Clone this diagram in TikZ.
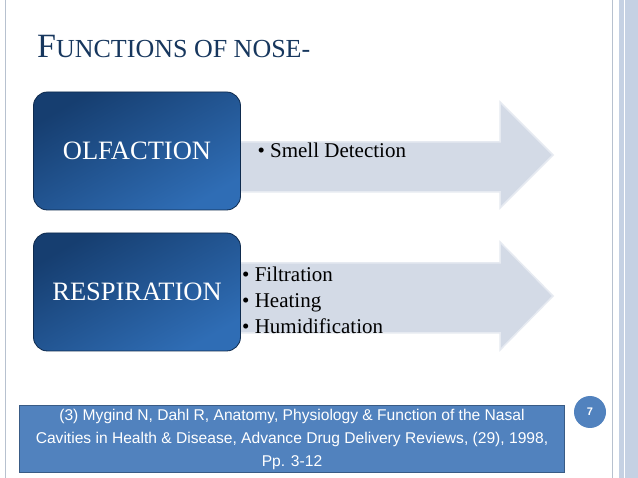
\documentclass[tikz,border=0pt]{standalone}
\usepackage{fontspec}
\setmainfont{Liberation Serif}
\newfontfamily\arialf{Liberation Sans}
\definecolor{ttl}{HTML}{17375E}
\definecolor{boxdk}{HTML}{163E70}
\definecolor{boxlt}{HTML}{2F6DB5}
\definecolor{arrfill}{HTML}{D3DAE6}
\definecolor{arrline}{HTML}{E6EAF1}
\definecolor{cite}{HTML}{5182BE}
\definecolor{strip}{HTML}{C5D1E3}
\tikzset{
 catbox/.style={rounded corners=14pt, draw=boxdk!70!black, line width=0.8pt, top color=boxdk, bottom color=boxlt, shading angle=30, text=white, font=\fontsize{26.5}{28}\selectfont, align=center},
 arrshape/.style={fill=arrfill, draw=arrline, line width=1.5pt},
}
\begin{document}
\begin{tikzpicture}[x=1pt,y=-1pt]
\useasboundingbox (0,0) rectangle (638,478);
\fill[white] (0,0) rectangle (638,478);
% frame
\draw[strip!80!gray, line width=1pt] (5,0) -- (5,478);
\draw[strip!80!gray, line width=1pt] (612,0) -- (612,478);
\fill[strip] (619,0) rectangle (638,478);
\draw[white, line width=1pt] (624,0) -- (624,478);
% title
\node[anchor=west, text=ttl, inner sep=0] (title) at (37,46) {\fontsize{34}{36}\selectfont F\fontsize{26}{30}\selectfont UNCTIONS OF NOSE-};
% arrows
\draw[arrshape] (236,142) -- (500,142) -- (500,102) -- (553,155) -- (500,208) -- (500,192) -- (236,192) -- cycle;
\draw[arrshape] (236,263) -- (500,263) -- (500,242) -- (553,296) -- (500,350) -- (500,333) -- (236,333) -- cycle;
% boxes
\node[catbox, minimum width=207pt, minimum height=118pt] (olf) at (137,151) {OLFACTION};
\node[catbox, minimum width=207pt, minimum height=118pt] (resp) at (137,292) {RESPIRATION};
% bullet texts
\node[anchor=west, font=\fontsize{21}{23}\selectfont] (smell) at (254,150) {\textbullet\ Smell Detection};
\node[anchor=west, align=left, font=\fontsize{21}{26}\selectfont, inner sep=0] (list) at (242,300) {\textbullet\ Filtration\\ \textbullet\ Heating\\ \textbullet\ Humidification};
% citation
\node[draw=cite!70!black, fill=cite, text=white, minimum width=545pt, minimum height=66pt, align=center, font=\arialf\fontsize{15.6}{23}\selectfont] (cit) at (292,439) {(3) Mygind N, Dahl R, Anatomy, Physiology \& Function of the Nasal\\Cavities in Health \& Disease, Advance Drug Delivery Reviews, (29), 1998,\\Pp. 3-12};
\node[circle, fill=cite, text=white, minimum size=32pt, inner sep=0, font=\arialf\bfseries\fontsize{11}{12}\selectfont] (num) at (590,412) {7};
\end{tikzpicture}
\end{document}
